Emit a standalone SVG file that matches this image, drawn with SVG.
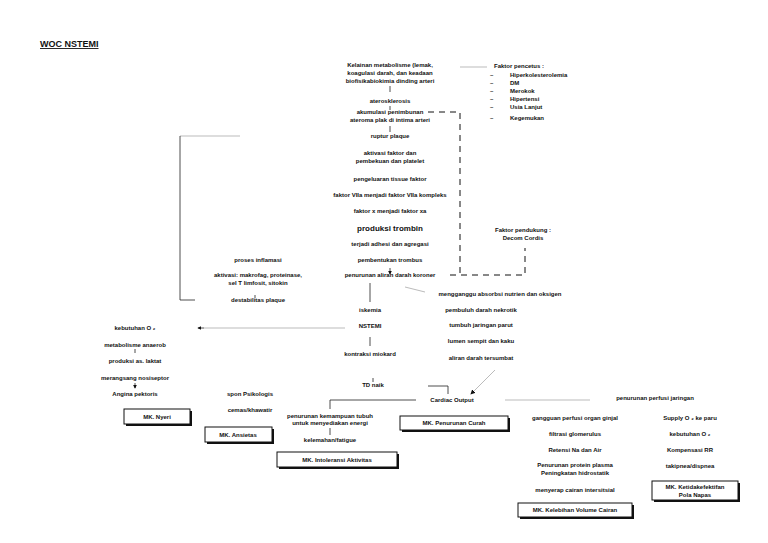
<svg xmlns="http://www.w3.org/2000/svg" width="768" height="543" viewBox="0 0 768 543">
<style>
text{font-family:"Liberation Sans",Arial,sans-serif;font-size:6px;font-weight:bold;fill:#111;text-anchor:middle}
.l{text-anchor:start}
.ln{stroke:#222;stroke-width:0.8;fill:none}
.g{stroke:#bbb;stroke-width:1;fill:none}
.d{stroke:#111;stroke-width:1;fill:none;stroke-dasharray:6,5}
.sh{fill:#111}
.bx{fill:#fff;stroke:#111;stroke-width:1}
</style>
<defs><marker id="a" viewBox="0 0 6 6" refX="5" refY="3" markerWidth="5" markerHeight="5" orient="auto"><path d="M0,0L6,3L0,6z" fill="#111"/></marker></defs>
<rect width="768" height="543" fill="#fff"/>
<text class="l" x="40" y="47" style="font-size:9px;text-decoration:underline">WOC NSTEMI</text>
<g id="connectors">
<path class="ln" d="M390,86V92M390,106V110M390,126V132M390,268V274" marker-end="url(#a)"/>
<path class="g" d="M460,67H487M180,136H240M345,328H204M405,287L425,292M505,400H590"/>
<path class="ln" d="M180,136V300H195"/>
<path class="d" d="M428,112H460V275M450,275H525V248"/>
<path class="ln" d="M370,283V302M370,337V346M373,378V382M428,386H448V394M416,400H330V409M330,428V435M255,295V298M135,349V353M135,383V388" marker-end="url(#a)"/>
<path class="ln" d="M204,328L198,328" marker-end="url(#a)"/>
<path class="g" d="M495,370L471,394" marker-end="url(#a)"/>
</g>
<g id="n-top"><text x="390" y="67">Kelainan metabolisme (lemak,</text><text x="390" y="75">koagulasi darah, dan keadaan</text><text x="390" y="83">biofisikabiokimia dinding arteri</text></g>
<g id="n-ater"><text x="390" y="103">aterosklerosis</text></g>
<g id="n-akum"><text x="390" y="114">akumulasi penimbunan</text><text x="390" y="122">ateroma plak di intima arteri</text></g>
<g id="n-rupt"><text x="390" y="138">ruptur plaque</text></g>
<g id="n-akt"><text x="390" y="155">aktivasi faktor dan</text><text x="390" y="163">pembekuan dan platelet</text></g>
<g id="n-peng"><text x="390" y="181">pengeluaran tissue faktor</text></g>
<g id="n-f7"><text x="390" y="197">faktor VIIa menjadi faktor VIIa kompleks</text></g>
<g id="n-fx"><text x="390" y="213">faktor x menjadi faktor xa</text></g>
<g id="n-trom"><text x="390" y="231" style="font-size:8px">produksi trombin</text></g>
<g id="n-adh"><text x="390" y="246">terjadi adhesi dan agregasi</text></g>
<g id="n-pemb"><text x="390" y="262">pembentukan trombus</text></g>
<g id="n-penur"><text x="390" y="277">penurunan aliran darah koroner</text></g>
<g id="n-fp"><text class="l" x="494" y="68">Faktor pencetus :</text>
<text class="l" x="490" y="77">–</text><text class="l" x="510" y="77">Hiperkolesterolemia</text>
<text class="l" x="490" y="85">–</text><text class="l" x="510" y="85">DM</text>
<text class="l" x="490" y="93">–</text><text class="l" x="510" y="93">Merokok</text>
<text class="l" x="490" y="101">–</text><text class="l" x="510" y="101">Hipertensi</text>
<text class="l" x="490" y="109">–</text><text class="l" x="510" y="109">Usia Lanjut</text>
<text class="l" x="490" y="120">–</text><text class="l" x="510" y="120">Kegemukan</text></g>
<g id="n-fpd"><text x="523" y="232">Faktor pendukung :</text><text x="523" y="240">Decom Cordis</text></g>
<g id="n-infl"><text x="258" y="262">proses inflamasi</text><text x="258" y="277">aktivasi: makrofag, proteinase,</text><text x="258" y="285">sel T limfosit, sitokin</text><text x="258" y="302">destabilitas plaque</text></g>
<g id="n-meng"><text x="500" y="296">mengganggu absorbsi nutrien dan oksigen</text></g>
<g id="n-isk"><text x="370" y="312">iskemia</text></g>
<g id="n-nst"><text x="370" y="328">NSTEMI</text></g>
<g id="n-kon"><text x="370" y="356">kontraksi miokard</text></g>
<g id="n-td"><text x="373" y="387">TD naik</text></g>
<g id="n-pd"><text x="481" y="312">pembuluh darah nekrotik</text><text x="481" y="327">tumbuh jaringan parut</text><text x="481" y="343">lumen sempit dan kaku</text><text x="481" y="360">aliran darah tersumbat</text></g>
<g id="n-co"><text x="452" y="402">Cardiac Output</text></g>
<g id="n-keb"><text x="135" y="330">kebutuhan O ₂</text><text x="135" y="347">metabolisme anaerob</text><text x="135" y="363">produksi as. laktat</text><text x="135" y="380">merangsang nosiseptor</text><text x="135" y="396">Angina pektoris</text></g>
<g id="n-nyeri"><rect class="sh" x="126" y="411" width="66" height="15"/><rect class="bx" x="124" y="409" width="66" height="15"/><text x="157" y="419">MK. Nyeri</text></g>
<g id="n-psi"><text x="250" y="396">spon Psikologis</text><text x="250" y="412">cemas/khawatir</text></g>
<g id="n-ans"><rect class="sh" x="207" y="429" width="67" height="15"/><rect class="bx" x="205" y="427" width="67" height="15"/><text x="238" y="437">MK. Ansietas</text></g>
<g id="n-kem"><text x="330" y="418">penurunan kemampuan tubuh</text><text x="330" y="425">untuk menyediakan energi</text><text x="330" y="442">kelemahan/fatigue</text></g>
<g id="n-int"><rect class="sh" x="279" y="454" width="120" height="15"/><rect class="bx" x="277" y="452" width="120" height="15"/><text x="337" y="462">MK. Intoleransi Aktivitas</text></g>
<g id="n-curah"><rect class="sh" x="402" y="418" width="108" height="14"/><rect class="bx" x="400" y="416" width="108" height="14"/><text x="454" y="425">MK. Penurunan Curah</text></g>
<g id="n-perf"><text x="655" y="400">penurunan perfusi jaringan</text></g>
<g id="n-ginj"><text x="575" y="420">gangguan perfusi organ ginjal</text><text x="575" y="436">filtrasi glomerulus</text><text x="575" y="452">Retensi Na dan Air</text><text x="575" y="467">Penurunan protein plasma</text><text x="575" y="475">Peningkatan hidrostatik</text><text x="575" y="492">menyerap cairan intersitsial</text></g>
<g id="n-kel"><rect class="sh" x="520" y="505" width="114" height="14"/><rect class="bx" x="518" y="503" width="114" height="14"/><text x="575" y="512">MK. Kelebihan Volume Cairan</text></g>
<g id="n-paru"><text x="690" y="420">Supply O ₂ ke paru</text><text x="690" y="436">kebutuhan O ₂</text><text x="690" y="452">Kompensasi RR</text><text x="690" y="468">takipnea/dispnea</text></g>
<g id="n-ket"><rect class="sh" x="654" y="483" width="86" height="19"/><rect class="bx" x="652" y="481" width="86" height="19"/><text x="695" y="489">MK. Ketidakefektifan</text><text x="695" y="497">Pola Napas</text></g>
</svg>
